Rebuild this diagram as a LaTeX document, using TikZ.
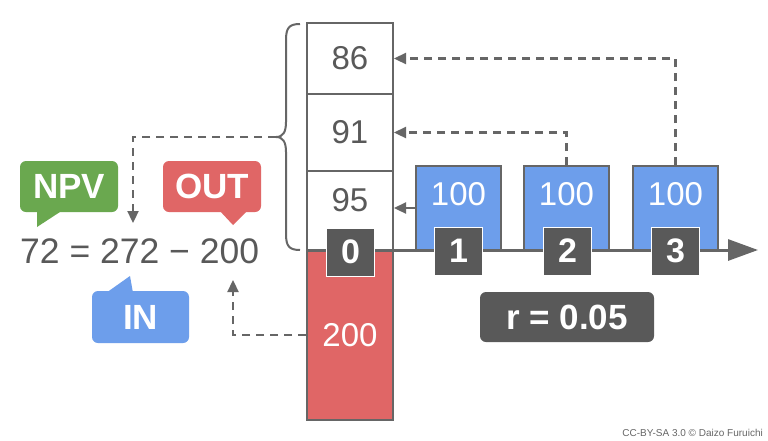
\documentclass[tikz,border=0pt]{standalone}
\usepackage{fontspec}
\setmainfont{Liberation Sans}
\usetikzlibrary{arrows.meta}
\definecolor{cgreen}{HTML}{6AA84F}
\definecolor{cred}{HTML}{E06666}
\definecolor{cblue}{HTML}{6D9EEB}
\definecolor{cdark}{HTML}{595959}
\definecolor{cline}{HTML}{666666}
\tikzset{
  valbox/.style={draw=cline, line width=2pt, minimum width=86pt, inner sep=0pt, text=cdark, font=\fontsize{33}{36}\selectfont},
  cfbox/.style={draw=cline, line width=2pt, fill=cblue, minimum width=85pt, minimum height=84pt, inner sep=0pt, text=white, font=\fontsize{33}{36}\selectfont, text depth=29pt, anchor=center},
  tlabel/.style={draw=white, line width=0.8pt, fill=cdark, minimum width=48pt, minimum height=48pt, inner sep=0pt, text=white, font=\fontsize{34}{38}\selectfont\bfseries},
  bubble/.style={text=white, font=\fontsize{35}{40}\selectfont\bfseries, inner sep=0pt},
  dasharr/.style={draw=cline, line width=2.3pt, dash pattern=on 8pt off 6pt, -{Triangle[length=12pt,width=11pt]}},
  solidarr/.style={draw=cline, line width=2.3pt, -{Triangle[length=12pt,width=11pt]}},
}
\begin{document}
\begin{tikzpicture}[x=1pt,y=-1pt]
\fill[white] (0,0) rectangle (768,440);
\useasboundingbox (0,0) rectangle (768,440);

% column of present values
\node[valbox, minimum height=71pt] (b86) at (350,58.5) {86};
\node[valbox, minimum height=77pt] (b91) at (350,132.5) {91};
\node[valbox, minimum height=79pt, text depth=21pt] (b95) at (350,210.5) {95};
\node[valbox, minimum height=170pt, fill=cred, text=white] (b200) at (350,335) {200};

% cash flow boxes
\node[cfbox] (c1) at (458.5,208) {100};
\node[cfbox] (c2) at (566.5,208) {100};
\node[cfbox] (c3) at (675.5,208) {100};

% timeline
\coordinate (tstart) at (307,250);
\coordinate (tend) at (758,250);
\draw[cline, line width=3pt, -{Triangle[length=30pt,width=21pt]}] (tstart) -- (tend);

% time labels
\node[tlabel] (t0) at (350.5,252) {0};
\node[tlabel] (t1) at (458.5,251) {1};
\node[tlabel] (t2) at (567.5,251) {2};
\node[tlabel] (t3) at (675.5,251) {3};

% discount arrows
\draw[dasharr] (c3.north) |- (b86.east);
\draw[dasharr] (c2.north) |- (b91.east);
\draw[solidarr] (c1.west) -- (c1.west -| b95.east);

% brace
\coordinate (bracetip) at (276,137);
\draw[cline, line width=2pt] (300,24) .. controls (289,24) and (286,28) .. (286,40) -- (286,122)
  .. controls (286,132) and (283,137) .. (bracetip)
  .. controls (283,137) and (286,142) .. (286,152) -- (286,234)
  .. controls (286,246) and (289,250) .. (300,250);

% equation
\node[anchor=base west, inner sep=0pt, text=cdark, font=\fontsize{35.5}{40}\selectfont] (eq) at (20,263) {72 = 272 − 200};
\coordinate (eqtop) at (133,223);
\coordinate (eqbot) at (233,280);
\draw[dasharr] (bracetip) -| (eqtop);
\draw[dasharr] (b200.west) -| (eqbot);

% bubbles
\fill[cgreen, rounded corners=6pt] (20,161) rectangle (118,212);
\fill[cgreen] (37,205) -- (37,227) -- (63,210) -- cycle;
\node[bubble] (npv) at (69,186.5) {NPV};

\fill[cred, rounded corners=6pt] (163,161) rectangle (261,212);
\fill[cred] (219,210) -- (233,225) -- (248,210) -- cycle;
\node[bubble] (out) at (212,186.5) {OUT};

\fill[cblue, rounded corners=6pt] (92,291) rectangle (189,343);
\fill[cblue] (106,293) -- (130,276) -- (133,293) -- cycle;
\node[bubble] (in) at (140.5,317) {IN};

% rate
\node[fill=cdark, rounded corners=6pt, minimum width=174pt, minimum height=50pt, inner sep=0pt, text=white, font=\fontsize{35}{40}\selectfont\bfseries] (rate) at (567,317) {r = 0.05};

% credit
\node[anchor=base east, inner sep=0pt, text=cline, font=\fontsize{10}{12}\selectfont] (credit) at (763,436) {CC-BY-SA 3.0 © Daizo Furuichi};
\end{tikzpicture}
\end{document}
